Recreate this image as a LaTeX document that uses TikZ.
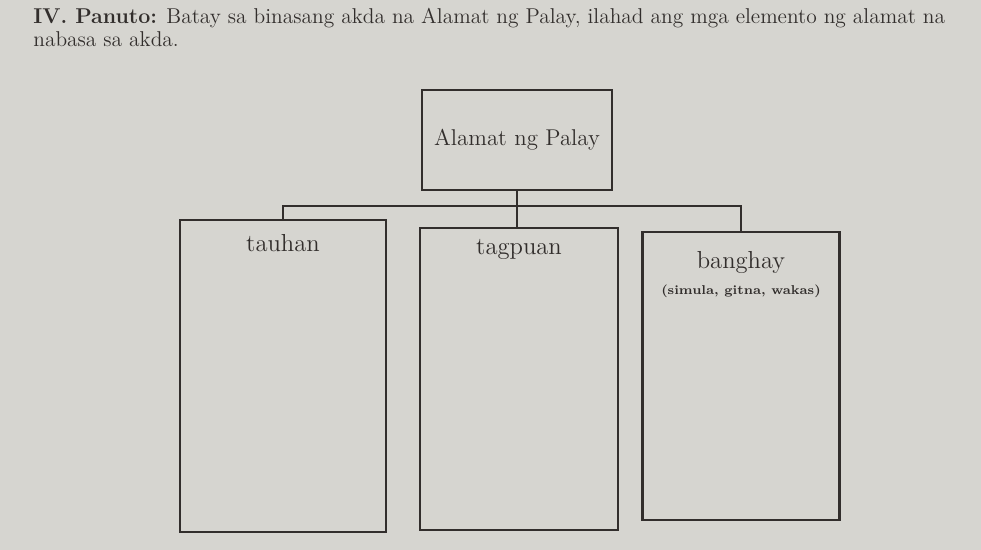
\documentclass[tikz,border=0pt]{standalone}
\usepackage{tikz}
\usetikzlibrary{positioning}
\definecolor{papel}{RGB}{214,213,208}
\definecolor{tinta}{RGB}{50,46,44}

\begin{document}
\begin{tikzpicture}[x = 0.02cm , y = -0.02cm]
    \fill[papel] (0,0) rectangle (981,550);
    \useasboundingbox (0,0) rectangle (981,550);
    \tikzset{
        kahon/.style = {draw = tinta , line width = 1.2pt , inner sep = 0pt},
        pamagat/.style = {text = tinta , font = \fontsize{14}{16}\selectfont , inner sep = 0pt},
        sanga/.style = {draw = tinta , line width = 1pt}
    }
    % Panuto
    \node[anchor = north west , align = left , text = tinta , inner sep = 0pt ,
          font = \fontsize{12.2}{13}\selectfont] (panuto) at (33,8)
          {\textbf{IV. Panuto:} Batay sa binasang akda na Alamat ng Palay, ilahad ang mga elemento ng alamat na\\ nabasa sa akda.};
    % Kahon
    \node[kahon , minimum width = 3.8cm , minimum height = 2cm , text = tinta ,
          font = \fontsize{13}{15}\selectfont] (palay) at (517,140) {Alamat ng Palay};
    \node[kahon , minimum width = 4.12cm , minimum height = 6.24cm] (tauhan) at (283,376) {};
    \node[kahon , minimum width = 3.96cm , minimum height = 6.04cm] (tagpuan) at (519,379) {};
    \node[kahon , minimum width = 3.94cm , minimum height = 5.76cm] (banghay) at (741,376) {};
    % Mga pamagat
    \node[pamagat , below = 0.3cm of tauhan.north] (tauhanL) {tauhan};
    \node[pamagat , below = 0.24cm of tagpuan.north] (tagpuanL) {tagpuan};
    \node[pamagat , below = 0.4cm of banghay.north] (banghayL) {banghay};
    \node[text = tinta , inner sep = 0pt , font = \fontsize{7.3}{9}\selectfont\bfseries ,
          below = 0.22cm of banghayL] (bahagi) {(simula, gitna, wakas)};
    % Mga linya
    \coordinate (gitna) at (palay.south |- 0,206);
    \draw[sanga] (palay.south) -- (gitna);
    \draw[sanga] (tauhan.north) |- (gitna) -| (banghay.north);
    \draw[sanga] (gitna) -- (gitna |- tagpuan.north);
\end{tikzpicture}
\end{document}
